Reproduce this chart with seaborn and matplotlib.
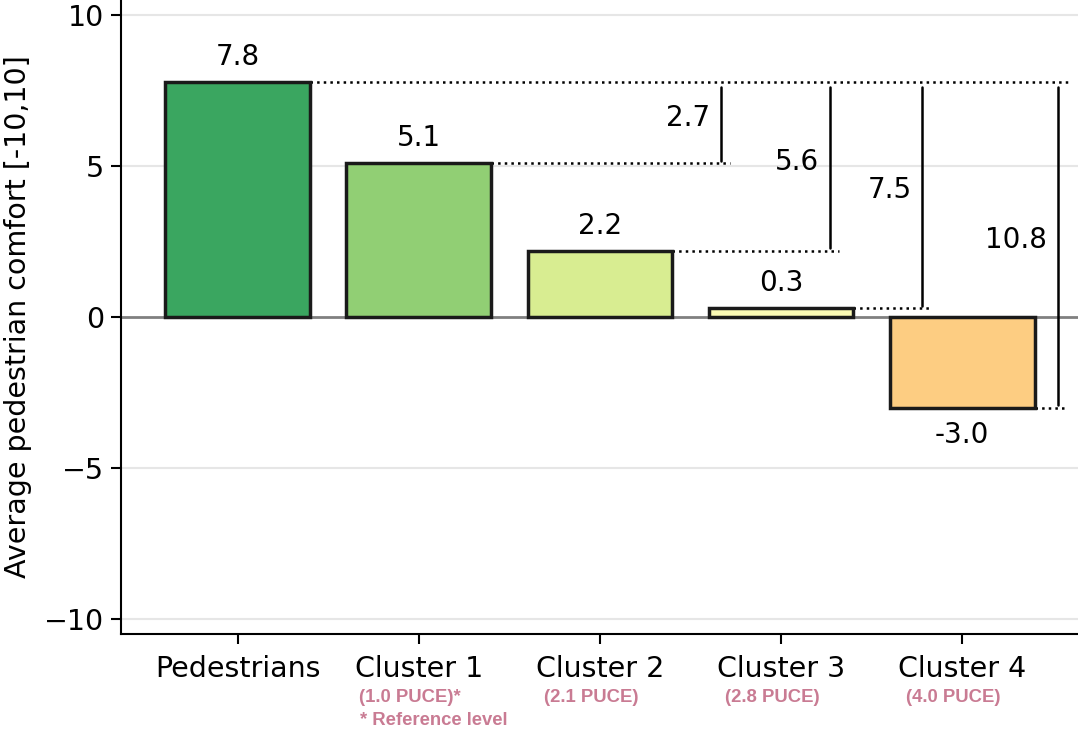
import pandas as pd
import matplotlib
matplotlib.use('Agg')
import matplotlib.pyplot as plt
import seaborn as sns

# data
groups = ['Pedestrians', 'Cluster 1', 'Cluster 2', 'Cluster 3', 'Cluster 4']
comfort = [7.8, 5.1, 2.2, 0.3, -3.0]
puce_labels = ['', '(1.0 PUCE)*', '(2.1 PUCE)', '(2.8 PUCE)', '(4.0 PUCE)']
bar_colors = ['#3aa660', '#91cf74', '#d8ed91', '#fafab4', '#fdcd82']
# x location of the difference brackets (Cluster 1..4)
bracket_x = [2.67, 3.27, 3.78, 4.53]


def main():
    df = pd.DataFrame({'group': groups, 'comfort': comfort})

    sns.set_theme(style='ticks')
    plt.rcParams['font.family'] = ['DejaVu Sans']
    plt.rcParams['text.color'] = 'black'
    plt.rcParams['axes.labelcolor'] = 'black'
    plt.rcParams['xtick.color'] = 'black'
    plt.rcParams['ytick.color'] = 'black'

    fig = plt.figure(figsize=(10.78, 7.35), dpi=100)
    ax = fig.add_axes([121 / 1078, 101 / 735, 957 / 1078, 634 / 735])

    sns.barplot(data=df, x='group', y='comfort', hue='group',
                palette=dict(zip(groups, bar_colors)), legend=False,
                saturation=1, width=0.8, edgecolor='#1a1a1a', linewidth=2.5,
                ax=ax, zorder=3)

    ax.set_xlim(-0.645, 4.64)
    ax.set_ylim(-10.5, 10.5)
    ax.set_yticks([-10, -5, 0, 5, 10])

    for t in [-10, -5, 5, 10]:
        ax.axhline(t, color='#e6e6e6', lw=1.5, zorder=0)
    ax.axhline(0, color='#808080', lw=2, zorder=1)

    # value labels
    for i, v in enumerate(comfort):
        if v >= 0:
            ax.text(i, v + 0.35, f'{v:.1f}', ha='center', va='bottom', fontsize=20)
        else:
            ax.text(i, v - 0.45, f'{v:.1f}', ha='center', va='top', fontsize=20)

    # difference brackets relative to pedestrians
    ref = comfort[0]
    ax.plot([0.4, 4.6], [ref, ref], ls=':', color='black', lw=1.8, zorder=2)
    for i, (v, bx) in enumerate(zip(comfort[1:], bracket_x), start=1):
        ax.plot([i + 0.4, bx + 0.05], [v, v], ls=':', color='black', lw=1.8, zorder=2)
        ax.plot([bx, bx], [v + 0.08, ref - 0.17], color='black', lw=1.8, zorder=2)
        diff = ref - v
        ax.text(bx - 0.06, (ref + v) / 2 + 0.15, f'{diff:.1f}', ha='right',
                va='center', fontsize=20)

    ax.set_xlabel('')
    ax.set_ylabel('Average pedestrian comfort [-10,10]', fontsize=20.5, labelpad=9)
    ax.tick_params(axis='both', labelsize=20.5, length=7, width=1.5, direction='out')
    ax.tick_params(axis='x', pad=8)
    ax.tick_params(axis='y', pad=5)

    for s in ['top', 'right']:
        ax.spines[s].set_visible(False)
    for s in ['left', 'bottom']:
        ax.spines[s].set_linewidth(1.5)
        ax.spines[s].set_color('black')

    # PUCE sub-labels under the cluster names
    pink = '#c97b93'
    trans = ax.get_xaxis_transform()
    for i, lab in enumerate(puce_labels):
        if lab:
            ax.text(i - 0.05, -0.1, lab, transform=trans, ha='center', va='center',
                    fontsize=13.3, fontweight='bold', color=pink,
                    family='Liberation Sans', clip_on=False)
    ax.text(1.08, -0.136, '* Reference level', transform=trans, ha='center',
            va='center', fontsize=13.3, fontweight='bold', color=pink,
            family='Liberation Sans', clip_on=False)

    fig.savefig('out.png', dpi=100)


if __name__ == '__main__':
    main()
